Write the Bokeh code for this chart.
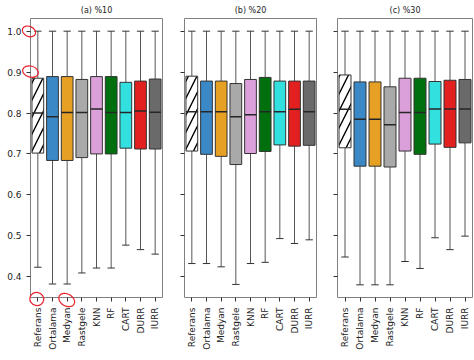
import numpy as np
from bokeh.plotting import figure
from bokeh.layouts import row
from bokeh.models import (FactorRange, Range1d, FixedTicker, ColumnDataSource,
                          PrintfTickFormatter, Div)
from bokeh.transform import dodge
from bokeh.embed import file_html
from bokeh.resources import INLINE

# Imputation methods and their box colours
methods = ["Referans", "Ortalama", "Medyan", "Rastgele", "KNN", "RF", "CART", "DURR", "IURR"]
colors = ["#ffffff", "#3b88c6", "#e6a024", "#a9a9a9", "#dba0da", "#00700f", "#33e0e0", "#e32020", "#6a6a6a"]

titles = ["(a) %10", "(b) %20", "(c) %30"]
y_ticks = [0.4, 0.5, 0.6, 0.7, 0.8, 0.9, 1.0]

# Box statistics per missing-rate panel: lower whisker, Q1, median, Q3, upper whisker
lo_10 = [0.423, 0.382, 0.382, 0.409, 0.421, 0.421, 0.477, 0.466, 0.455]
q1_10 = [0.702, 0.684, 0.684, 0.691, 0.700, 0.700, 0.714, 0.712, 0.712]
med_10 = [0.800, 0.791, 0.801, 0.801, 0.810, 0.801, 0.801, 0.805, 0.802]
q3_10 = [0.885, 0.889, 0.889, 0.882, 0.889, 0.889, 0.875, 0.878, 0.883]
hi_10 = [1.0, 1.0, 1.0, 1.0, 1.0, 1.0, 1.0, 1.0, 1.0]

lo_20 = [0.432, 0.432, 0.424, 0.381, 0.432, 0.435, 0.493, 0.481, 0.490]
q1_20 = [0.707, 0.699, 0.694, 0.674, 0.701, 0.706, 0.722, 0.719, 0.721]
med_20 = [0.803, 0.803, 0.803, 0.791, 0.796, 0.803, 0.803, 0.809, 0.803]
q3_20 = [0.890, 0.878, 0.878, 0.872, 0.882, 0.887, 0.878, 0.878, 0.878]
hi_20 = [1.0, 1.0, 1.0, 1.0, 1.0, 1.0, 1.0, 1.0, 1.0]

lo_30 = [0.448, 0.380, 0.380, 0.380, 0.437, 0.420, 0.495, 0.466, 0.499]
q1_30 = [0.715, 0.670, 0.670, 0.668, 0.707, 0.699, 0.724, 0.716, 0.727]
med_30 = [0.809, 0.785, 0.785, 0.771, 0.801, 0.801, 0.810, 0.810, 0.810]
q3_30 = [0.893, 0.876, 0.876, 0.864, 0.885, 0.885, 0.877, 0.880, 0.882]
hi_30 = [1.0, 1.0, 1.0, 1.0, 1.0, 1.0, 1.0, 1.0, 1.0]

Y_LO, Y_HI = 0.349, 1.031
FONT = "DejaVu Sans"
EDGE = "#333333"
WHISK = "#555555"
FRAME = "#808080"
HEIGHT = 360
BORDER_TOP, BORDER_BOTTOM = 18, 63
FRAME_H = HEIGHT - BORDER_TOP - BORDER_BOTTOM


def panel(title, lo, q1, med, q3, hi, width, left, right, show_labels):
    src = ColumnDataSource(dict(m=methods, lo=lo, q1=q1, med=med, q3=q3, hi=hi,
                                c=colors,
                                hatch=["/"] + [" "] * (len(methods) - 1)))
    p = figure(x_range=FactorRange(*methods, range_padding=0),
               y_range=Range1d(Y_LO, Y_HI),
               width=width, height=HEIGHT,
               min_border_left=left, min_border_right=right,
               min_border_top=BORDER_TOP, min_border_bottom=BORDER_BOTTOM,
               output_backend="svg", toolbar_location=None, title=title)
    p.title.align = "center"
    p.title.text_font = FONT
    p.title.text_font_size = "8px"
    p.title.text_font_style = "normal"
    p.title.text_color = "#222222"
    p.title.standoff = 7

    p.grid.visible = False
    p.outline_line_color = FRAME
    p.outline_line_width = 1
    p.background_fill_color = "white"
    p.border_fill_color = "white"

    # whiskers and caps
    p.segment(x0="m", y0="q3", x1="m", y1="hi", source=src, line_color=WHISK, line_width=1)
    p.segment(x0="m", y0="lo", x1="m", y1="q1", source=src, line_color=WHISK, line_width=1)
    p.segment(x0=dodge("m", -0.25, range=p.x_range), y0="hi",
              x1=dodge("m", 0.25, range=p.x_range), y1="hi",
              source=src, line_color=EDGE, line_width=1)
    p.segment(x0=dodge("m", -0.25, range=p.x_range), y0="lo",
              x1=dodge("m", 0.25, range=p.x_range), y1="lo",
              source=src, line_color=EDGE, line_width=1)

    # boxes (reference method drawn white with diagonal hatching)
    p.vbar(x="m", bottom="q1", top="q3", width=0.8, source=src,
           fill_color="c", line_color=EDGE, line_width=1,
           hatch_pattern="hatch", hatch_color="black", hatch_scale=17, hatch_weight=1.4)
    # medians
    p.segment(x0=dodge("m", -0.4, range=p.x_range), y0="med",
              x1=dodge("m", 0.4, range=p.x_range), y1="med",
              source=src, line_color="#262626", line_width=1.5)

    for ax in (p.xaxis[0], p.yaxis[0]):
        ax.axis_line_color = None
        ax.major_tick_line_color = "#333333"
        ax.major_tick_out = 4
        ax.major_tick_in = 0
        ax.minor_tick_line_color = None
        ax.major_label_text_font = FONT
        ax.major_label_text_font_size = "9px"
        ax.major_label_text_color = "#222222"

    p.xaxis.major_label_orientation = np.pi / 2
    p.xaxis.major_label_standoff = 6

    p.yaxis.ticker = FixedTicker(ticks=y_ticks)
    p.yaxis.formatter = PrintfTickFormatter(format="%.1f")
    p.yaxis.major_label_standoff = 5
    if not show_labels:
        p.yaxis.major_label_overrides = {t: "" for t in y_ticks}
    return p


WA, LA, RA = 170, 30, 8
pa = panel(titles[0], lo_10, q1_10, med_10, q3_10, hi_10, WA, LA, RA, True)
pb = panel(titles[1], lo_20, q1_20, med_20, q3_20, hi_20, 151, 14, 5, False)
pc = panel(titles[2], lo_30, q1_30, med_30, q3_30, hi_30, 153, 16, 2, False)


# red hand-drawn rings over panel (a): the 1.0 and 0.9 y ticks, Referans and Medyan x ticks
def ypix(v):
    return BORDER_TOP + (Y_HI - v) / (Y_HI - Y_LO) * FRAME_H


def xpix(name):
    step = (WA - LA - RA) / len(methods)
    return LA + (methods.index(name) + 0.5) * step


rings = [
    (LA - 1.0, ypix(1.0) + 0.7, 7.0, 5.0, 25),
    (LA + 0.5, ypix(0.9), 8.0, 5.5, 15),
    (xpix("Referans") - 0.5, BORDER_TOP + FRAME_H + 2, 7.0, 6.5, 10),
    (xpix("Medyan"), BORDER_TOP + FRAME_H + 3, 8.5, 6.0, 30),
]
shapes = "".join(
    f'<ellipse cx="{cx:.1f}" cy="{cy:.1f}" rx="{rx}" ry="{ry}" '
    f'transform="rotate({rot} {cx:.1f} {cy:.1f})" fill="none" '
    f'stroke="#e8202a" stroke-width="1.2"/>'
    for cx, cy, rx, ry, rot in rings)
overlay = Div(
    text=f'<svg width="474" height="360" style="display:block">{shapes}</svg>',
    width=474, height=360, margin=0,
    styles={"position": "absolute", "left": "0px", "top": "0px",
            "pointer-events": "none", "z-index": "10"})

layout = row(pa, pb, pc, overlay)
open("out.html", "w").write(file_html(layout, INLINE))
